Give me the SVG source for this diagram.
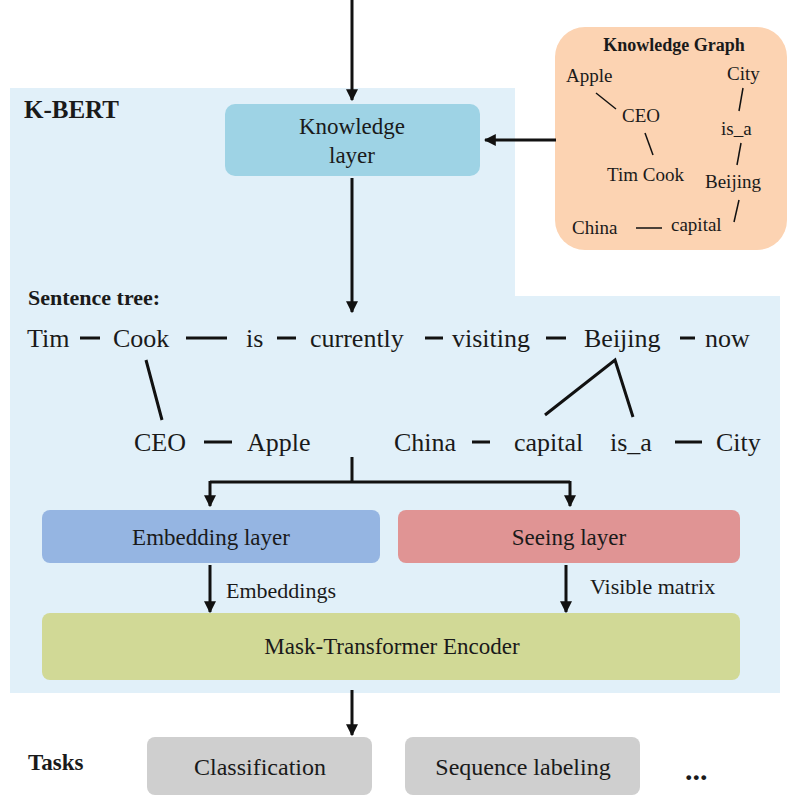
<svg xmlns="http://www.w3.org/2000/svg" width="794" height="797" viewBox="0 0 794 797">
<defs>
<style>
text{font-family:"Liberation Serif","Times New Roman",serif;fill:#1a1a1a}
.t{font-size:26px}
.m{font-size:23px;text-anchor:middle}
.k{font-size:19px}
.l{stroke:#111;stroke-width:3;fill:none}
.a{stroke:#111;stroke-width:3;fill:none;marker-end:url(#ah)}
</style>
<marker id="ah" viewBox="0 0 10 10" refX="9" refY="5" markerWidth="4" markerHeight="4" orient="auto"><path d="M0,0L10,5L0,10z" fill="#111"/></marker>
</defs>
<rect width="794" height="797" fill="#fff"/>
<path d="M10,88H515V296H780V693H10Z" fill="#e1f0f9"/>
<text x="24" y="118" style="font-size:25px;font-weight:bold">K-BERT</text>
<g id="kg">
<rect x="555" y="27" width="232" height="223" rx="30" fill="#fcd3b2"/>
<text x="674" y="51" class="k" style="font-weight:bold;text-anchor:middle;font-size:18px">Knowledge Graph</text>
<text x="566" y="82" class="k">Apple</text><text x="727" y="80" class="k">City</text>
<text x="622" y="122" class="k">CEO</text><text x="721" y="135" class="k">is_a</text>
<text x="607" y="181" class="k">Tim Cook</text><text x="705" y="188" class="k">Beijing</text>
<text x="572" y="234" class="k">China</text><text x="671" y="231" class="k">capital</text>
<g stroke="#111" stroke-width="1.5"><line x1="596" y1="93" x2="616" y2="109"/><line x1="645" y1="133" x2="653" y2="155"/><line x1="743" y1="88" x2="739" y2="111"/><line x1="741" y1="143" x2="737" y2="165"/><line x1="739" y1="200" x2="734" y2="222"/><line x1="636" y1="228" x2="662" y2="228"/></g>
</g>
<g id="knowledge-layer"><rect x="225" y="104" width="255" height="72" rx="10" fill="#9ed3e5"/><text x="352" y="134" class="m">Knowledge</text><text x="352" y="163" class="m">layer</text></g>
<text x="28" y="305" style="font-size:22px;font-weight:bold">Sentence tree:</text>
<g id="tree">
<text y="347" class="t"><tspan x="27">Tim</tspan><tspan x="113">Cook</tspan><tspan x="246">is</tspan><tspan x="310">currently</tspan><tspan x="452">visiting</tspan><tspan x="584">Beijing</tspan><tspan x="705">now</tspan></text>
<text y="451" class="t"><tspan x="134">CEO</tspan><tspan x="247">Apple</tspan><tspan x="394">China</tspan><tspan x="514">capital</tspan><tspan x="610">is_a</tspan><tspan x="716">City</tspan></text>
<g class="l"><path d="M80,338H100M186,338H227M277,338H296M425,338H443M546,338H566M680,338H695M204,442H232M472,442H490M675,442H702"/><path d="M146,360L162,420M545,415L615,360L633,417"/></g>
</g>
<g id="connectors">
<line class="a" x1="352" y1="0" x2="352" y2="100"/>
<line class="a" x1="556" y1="140" x2="485" y2="140"/>
<line class="a" x1="352" y1="178" x2="352" y2="312"/>
<path class="l" d="M352,457V482M210,482H570"/>
<line class="a" x1="210" y1="481" x2="210" y2="506"/>
<line class="a" x1="570" y1="481" x2="570" y2="506"/>
<line class="a" x1="210" y1="565" x2="210" y2="612"/>
<line class="a" x1="566" y1="565" x2="566" y2="612"/>
<line class="a" x1="352" y1="690" x2="352" y2="735"/>
</g>
<g id="embedding"><rect x="42" y="510" width="338" height="53" rx="8" fill="#95b5e2"/><text x="211" y="545" class="m">Embedding layer</text></g>
<g id="seeing"><rect x="398" y="510" width="342" height="53" rx="8" fill="#e09494"/><text x="569" y="545" class="m">Seeing layer</text></g>
<text x="226" y="598" style="font-size:22px">Embeddings</text>
<text x="590" y="594" style="font-size:22px">Visible matrix</text>
<g id="encoder"><rect x="42" y="613" width="698" height="67" rx="8" fill="#d1d996"/><text x="392" y="654" class="m">Mask-Transformer Encoder</text></g>
<text x="28" y="770" style="font-size:23px;font-weight:bold">Tasks</text>
<g id="classification"><rect x="147" y="737" width="225" height="58" rx="8" fill="#cfcfcf"/><text x="260" y="775" class="m" style="font-size:24px">Classification</text></g>
<g id="seqlabel"><rect x="405" y="737" width="235" height="58" rx="8" fill="#cfcfcf"/><text x="523" y="775" class="m" style="font-size:24px">Sequence labeling</text></g>
<text x="685" y="780" style="font-size:30px;font-weight:bold">...</text>
</svg>
